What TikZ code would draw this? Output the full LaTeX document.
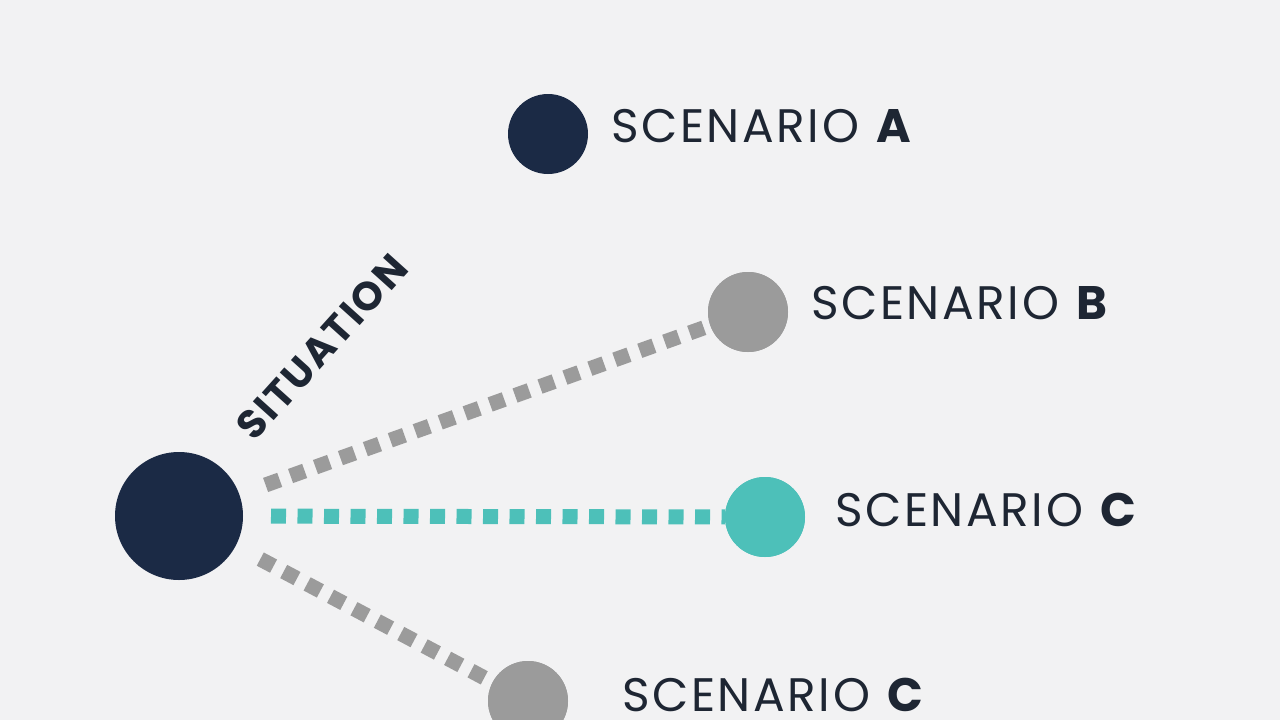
\documentclass[tikz,border=0pt]{standalone}
\usepackage{fontspec}
\setmainfont{Poppins}[LetterSpace=5.5]
\definecolor{bgc}{HTML}{F2F2F3}
\definecolor{navy}{HTML}{1B2A45}
\definecolor{greyd}{HTML}{9B9B9B}
\definecolor{teal}{HTML}{4DC0B9}
\definecolor{ink}{HTML}{1E2633}
\tikzset{
  dot/.style={circle, inner sep=0pt, outer sep=0pt, minimum size=80pt},
  lbl/.style={anchor=base west, inner sep=0pt, text=ink, font=\fontsize{47}{50}\selectfont},
  dashline/.style={line width=15pt, dash pattern=on 15pt off 11.5pt, shorten <=28pt},
}
\begin{document}
\begin{tikzpicture}[x=1pt,y=-1pt]
\useasboundingbox (0,0) rectangle (1280,720);
\fill[bgc] (0,0) rectangle (1280,720);
\node[dot, minimum size=128pt, fill=navy] (sit) at (179,516) {};
\node[dot, fill=navy] (a) at (548,134) {};
\node[dot, fill=greyd] (b) at (748,312) {};
\node[dot, fill=teal] (c) at (765,517) {};
\node[dot, fill=greyd] (d) at (528,701) {};
\draw[dashline, greyd] (sit) -- (b);
\draw[dashline, teal] (sit) -- (c);
\draw[dashline, greyd] (sit) -- (d);
\node[dot, fill=greyd] at (b) {};
\node[dot, fill=teal] at (c) {};
\node[dot, fill=greyd] at (d) {};
\node[lbl] (la) at (611,142) {SCENARIO \textbf{A}};
\node[lbl] (lb) at (811,319) {SCENARIO \textbf{B}};
\node[lbl] (lc) at (835,526) {SCENARIO \textbf{C}};
\node[lbl] (ld) at (622,711) {SCENARIO \textbf{C}};
\node[rotate=48, inner sep=0pt, text=ink, font=\fontsize{40}{42}\selectfont\bfseries] (st) at (322,347) {SITUATION};
\end{tikzpicture}
\end{document}
